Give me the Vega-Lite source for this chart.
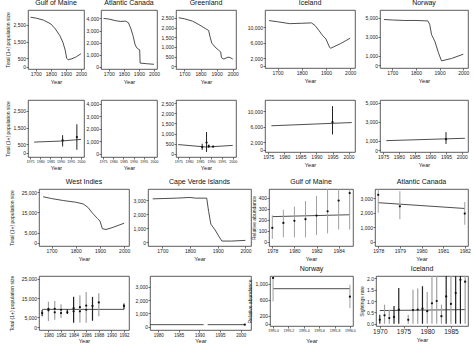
{
"$schema":"https://vega.github.io/schema/vega-lite/v6.json",
"padding":{"left":5,"top":-2,"right":0,"bottom":0},
"background":"white",
"config":{
 "font":"Liberation Sans",
 "view":{"stroke":"#333","strokeWidth":0.8},
 "axis":{"grid":false,"domain":false,"tickSize":2,"tickColor":"#333","tickWidth":0.7,"labelFontSize":5,"labelColor":"#222","labelPadding":0.5,"titleFontSize":5.7,"titleFontWeight":"normal","titleColor":"#222","titlePadding":1.5,"labelFlush":false,"labelOverlap":false},
 "axisY":{"titlePadding":2,"titleFontSize":5},
 "title":{"fontSize":7,"fontWeight":"normal","offset":0,"color":"#111","font":"Liberation Sans"}
},
"datasets":{
 "hist":[
  {"p":"GoM1","x":1665,"y":2950},{"p":"GoM1","x":1700,"y":2900},{"p":"GoM1","x":1750,"y":2780},{"p":"GoM1","x":1800,"y":2550},{"p":"GoM1","x":1830,"y":2250},{"p":"GoM1","x":1860,"y":1850},{"p":"GoM1","x":1880,"y":1450},{"p":"GoM1","x":1895,"y":1000},{"p":"GoM1","x":1905,"y":500},{"p":"GoM1","x":1915,"y":420},{"p":"GoM1","x":1940,"y":480},{"p":"GoM1","x":1970,"y":600},{"p":"GoM1","x":2000,"y":780},
  {"p":"AC1","x":1665,"y":4000},{"p":"AC1","x":1700,"y":3950},{"p":"AC1","x":1750,"y":3800},{"p":"AC1","x":1780,"y":3750},{"p":"AC1","x":1810,"y":3780},{"p":"AC1","x":1830,"y":3650},{"p":"AC1","x":1845,"y":3200},{"p":"AC1","x":1860,"y":2600},{"p":"AC1","x":1875,"y":1800},{"p":"AC1","x":1890,"y":1500},{"p":"AC1","x":1905,"y":1400},{"p":"AC1","x":1908,"y":300},{"p":"AC1","x":1950,"y":250},{"p":"AC1","x":2000,"y":200},
  {"p":"GR1","x":1665,"y":2500},{"p":"GR1","x":1700,"y":2450},{"p":"GR1","x":1750,"y":2330},{"p":"GR1","x":1790,"y":2150},{"p":"GR1","x":1830,"y":1950},{"p":"GR1","x":1850,"y":1850},{"p":"GR1","x":1860,"y":1500},{"p":"GR1","x":1870,"y":1200},{"p":"GR1","x":1890,"y":1000},{"p":"GR1","x":1910,"y":850},{"p":"GR1","x":1925,"y":750},{"p":"GR1","x":1930,"y":450},{"p":"GR1","x":1945,"y":380},{"p":"GR1","x":1970,"y":480},{"p":"GR1","x":1985,"y":450},{"p":"GR1","x":2000,"y":380},
  {"p":"IC1","x":1665,"y":11800},{"p":"IC1","x":1700,"y":11500},{"p":"IC1","x":1750,"y":11000},{"p":"IC1","x":1800,"y":11100},{"p":"IC1","x":1840,"y":11200},{"p":"IC1","x":1855,"y":10500},{"p":"IC1","x":1870,"y":9300},{"p":"IC1","x":1885,"y":8000},{"p":"IC1","x":1900,"y":7000},{"p":"IC1","x":1915,"y":4800},{"p":"IC1","x":1920,"y":4600},{"p":"IC1","x":1960,"y":5800},{"p":"IC1","x":2000,"y":7200},
  {"p":"NO1","x":1665,"y":4800},{"p":"NO1","x":1700,"y":4750},{"p":"NO1","x":1750,"y":4700},{"p":"NO1","x":1800,"y":4700},{"p":"NO1","x":1850,"y":4650},{"p":"NO1","x":1858,"y":4300},{"p":"NO1","x":1866,"y":3200},{"p":"NO1","x":1880,"y":2500},{"p":"NO1","x":1895,"y":1300},{"p":"NO1","x":1908,"y":450},{"p":"NO1","x":1950,"y":700},{"p":"NO1","x":2000,"y":1150},
  {"p":"WI3","x":1665,"y":22700},{"p":"WI3","x":1700,"y":21800},{"p":"WI3","x":1750,"y":20800},{"p":"WI3","x":1800,"y":20000},{"p":"WI3","x":1830,"y":19200},{"p":"WI3","x":1850,"y":17500},{"p":"WI3","x":1870,"y":14500},{"p":"WI3","x":1890,"y":12000},{"p":"WI3","x":1900,"y":10800},{"p":"WI3","x":1910,"y":7000},{"p":"WI3","x":1925,"y":6600},{"p":"WI3","x":1950,"y":7500},{"p":"WI3","x":1975,"y":8600},{"p":"WI3","x":2000,"y":9700},
  {"p":"CV3","x":1665,"y":3100},{"p":"CV3","x":1750,"y":3150},{"p":"CV3","x":1800,"y":3200},{"p":"CV3","x":1820,"y":3150},{"p":"CV3","x":1860,"y":3150},{"p":"CV3","x":1867,"y":2200},{"p":"CV3","x":1875,"y":1300},{"p":"CV3","x":1890,"y":900},{"p":"CV3","x":1905,"y":400},{"p":"CV3","x":1915,"y":100},{"p":"CV3","x":1950,"y":100},{"p":"CV3","x":2000,"y":150}
 ],
 "line":[
  {"p":"GoM2","s":1,"x":1977,"y":640},{"p":"GoM2","s":1,"x":1990,"y":700},{"p":"GoM2","s":1,"x":2000,"y":800},
  {"p":"GR2","s":1,"x":1975,"y":460},{"p":"GR2","s":1,"x":1988,"y":340},{"p":"GR2","s":1,"x":2000,"y":420},
  {"p":"IC2","s":1,"x":1976,"y":6260},{"p":"IC2","s":1,"x":2001,"y":7100},
  {"p":"NO2","s":1,"x":1976,"y":1000},{"p":"NO2","s":1,"x":2001,"y":1250},
  {"p":"GoMr","s":1,"x":1978,"y":228},{"p":"GoMr","s":1,"x":1985,"y":245},
  {"p":"ACr","s":1,"x":1978,"y":2700},{"p":"ACr","s":1,"x":1982,"y":2300},
  {"p":"WI4","s":1,"x":1979,"y":9200},{"p":"WI4","s":1,"x":1992,"y":9200},
  {"p":"CV4","s":1,"x":1978,"y":150},{"p":"CV4","s":1,"x":1991,"y":150},{"p":"CV4","s":2,"x":1992,"y":150},{"p":"CV4","s":2,"x":2001,"y":150},
  {"p":"NOr","s":1,"x":1995,"y":880},{"p":"NOr","s":1,"x":1996,"y":880},
  {"p":"ICr","s":1,"x":1970,"y":0.58},{"p":"ICr","s":1,"x":1988,"y":0.62}
 ],
 "pts":[
  {"p":"GoM2","x":1991,"y":740},{"p":"GoM2","x":1998,"y":940},
  {"p":"GR2","x":1986,"y":340},{"p":"GR2","x":1988,"y":560},{"p":"GR2","x":1989,"y":380},{"p":"GR2","x":1991,"y":360},
  {"p":"IC2","x":1995,"y":7200},
  {"p":"NO2","x":1995,"y":1150},
  {"p":"GoMr","x":1978,"y":125},{"p":"GoMr","x":1979,"y":170},{"p":"GoMr","x":1980,"y":190},{"p":"GoMr","x":1981,"y":205},{"p":"GoMr","x":1982,"y":238},{"p":"GoMr","x":1983,"y":277},{"p":"GoMr","x":1984,"y":375},{"p":"GoMr","x":1985,"y":443},
  {"p":"ACr","x":1978,"y":3250},{"p":"ACr","x":1979,"y":2450},{"p":"ACr","x":1982,"y":1950},
  {"p":"WI4","x":1979,"y":7300},{"p":"WI4","x":1980,"y":8700},{"p":"WI4","x":1981,"y":9500},{"p":"WI4","x":1982,"y":9000},{"p":"WI4","x":1983,"y":7700},{"p":"WI4","x":1984,"y":9800},{"p":"WI4","x":1985,"y":10300},{"p":"WI4","x":1986,"y":11200},{"p":"WI4","x":1987,"y":11000},{"p":"WI4","x":1988,"y":12800},{"p":"WI4","x":1992,"y":11000},
  {"p":"WI4","x":1980,"y":9500},{"p":"WI4","x":1981,"y":7700},{"p":"WI4","x":1982,"y":7300},{"p":"WI4","x":1984,"y":8200},{"p":"WI4","x":1985,"y":8200},{"p":"WI4","x":1986,"y":9000},
  {"p":"CV4","x":2001,"y":150},
  {"p":"NOr","x":1995,"y":1150},{"p":"NOr","x":1996,"y":680},
  {"p":"ICr","x":1970,"y":0.17},{"p":"ICr","x":1971,"y":0.37},{"p":"ICr","x":1972,"y":0.25},{"p":"ICr","x":1973,"y":0.3},{"p":"ICr","x":1974,"y":0.62},{"p":"ICr","x":1976,"y":0.17},{"p":"ICr","x":1977,"y":0.6},{"p":"ICr","x":1978,"y":0.62},{"p":"ICr","x":1979,"y":0.66},{"p":"ICr","x":1980,"y":0.55},{"p":"ICr","x":1981,"y":0.9},{"p":"ICr","x":1982,"y":1.0},{"p":"ICr","x":1983,"y":0.33},{"p":"ICr","x":1984,"y":1.2},{"p":"ICr","x":1985,"y":0.87},{"p":"ICr","x":1986,"y":1.35},{"p":"ICr","x":1987,"y":1.93},{"p":"ICr","x":1988,"y":1.85}
 ],
 "bars":[
  {"p":"GoM2","x":1991,"y":380,"y2":1050,"t":"a"},{"p":"GoM2","x":1998,"y":180,"y2":1700,"t":"a"},
  {"p":"GR2","x":1986,"y":200,"y2":500,"t":"a"},{"p":"GR2","x":1988,"y":100,"y2":1080,"t":"a"},{"p":"GR2","x":1989,"y":300,"y2":460,"t":"a"},{"p":"GR2","x":1991,"y":320,"y2":400,"t":"a"},
  {"p":"IC2","x":1995,"y":4000,"y2":11400,"t":"a"},
  {"p":"NO2","x":1995,"y":650,"y2":1900,"t":"a"},
  {"p":"GoMr","x":1978,"y":25,"y2":240,"t":"b"},{"p":"GoMr","x":1979,"y":40,"y2":290,"t":"b"},{"p":"GoMr","x":1980,"y":40,"y2":320,"t":"b"},{"p":"GoMr","x":1981,"y":40,"y2":370,"t":"b"},{"p":"GoMr","x":1982,"y":60,"y2":415,"t":"b"},{"p":"GoMr","x":1983,"y":75,"y2":490,"t":"b"},{"p":"GoMr","x":1984,"y":110,"y2":490,"t":"b"},{"p":"GoMr","x":1985,"y":110,"y2":490,"t":"b"},
  {"p":"ACr","x":1978,"y":2000,"y2":3650,"t":"b"},{"p":"ACr","x":1979,"y":1550,"y2":3500,"t":"b"},{"p":"ACr","x":1982,"y":1170,"y2":2750,"t":"b"},
  {"p":"WI4","x":1979,"y":5600,"y2":8900,"t":"a"},{"p":"WI4","x":1980,"y":3200,"y2":13200,"t":"b"},{"p":"WI4","x":1981,"y":3800,"y2":13500,"t":"b"},{"p":"WI4","x":1982,"y":4700,"y2":11800,"t":"b"},{"p":"WI4","x":1983,"y":6800,"y2":9200,"t":"a"},{"p":"WI4","x":1984,"y":2300,"y2":15700,"t":"a"},{"p":"WI4","x":1985,"y":2300,"y2":16500,"t":"b"},{"p":"WI4","x":1986,"y":2300,"y2":18200,"t":"b"},{"p":"WI4","x":1987,"y":3300,"y2":15700,"t":"a"},{"p":"WI4","x":1988,"y":5600,"y2":17500,"t":"b"},{"p":"WI4","x":1992,"y":9200,"y2":12200,"t":"a"},
  {"p":"NOr","x":1995,"y":560,"y2":1200,"t":"b"},{"p":"NOr","x":1996,"y":390,"y2":980,"t":"b"},
  {"p":"ICr","x":1970,"y":0,"y2":0.4,"t":"a"},{"p":"ICr","x":1971,"y":0,"y2":0.84,"t":"b"},{"p":"ICr","x":1972,"y":0,"y2":0.6,"t":"b"},{"p":"ICr","x":1973,"y":0,"y2":0.78,"t":"a"},{"p":"ICr","x":1974,"y":0,"y2":1.57,"t":"a"},{"p":"ICr","x":1976,"y":0,"y2":0.4,"t":"b"},{"p":"ICr","x":1977,"y":0,"y2":1.5,"t":"b"},{"p":"ICr","x":1978,"y":0,"y2":1.55,"t":"b"},{"p":"ICr","x":1979,"y":0,"y2":1.65,"t":"a"},{"p":"ICr","x":1980,"y":0,"y2":1.4,"t":"b"},{"p":"ICr","x":1981,"y":0,"y2":2.2,"t":"b"},{"p":"ICr","x":1982,"y":0,"y2":2.2,"t":"b"},{"p":"ICr","x":1983,"y":0,"y2":0.84,"t":"b"},{"p":"ICr","x":1984,"y":0,"y2":2.2,"t":"a"},{"p":"ICr","x":1985,"y":0,"y2":2.2,"t":"b"},{"p":"ICr","x":1986,"y":0,"y2":2.2,"t":"a"},{"p":"ICr","x":1987,"y":0,"y2":2.2,"t":"a"},{"p":"ICr","x":1988,"y":0,"y2":2.2,"t":"b"}
 ]
},
"spacing":6,
"vconcat":[
 {"spacing":12,"vconcat":[
  {"spacing":0,"bounds":"flush","hconcat":[
   {"width":56,"height":59,"title":"Gulf of Maine","data":{"name":"hist"},"transform":[{"filter":"datum.p==='GoM1'"}],"mark":{"type":"line","color":"#3a3a3a","strokeWidth":0.9},"encoding":{"x":{"field":"x","type":"quantitative","scale":{"domain":[1648,2020],"nice":false},"axis":{"values":[1700,1800,1900,2000],"format":"d","title":"Year"}},"y":{"field":"y","type":"quantitative","scale":{"domain":[-130,3380],"nice":false},"axis":{"values":[0,500,1500,2500],"format":",d","title":"Total (1+) population size"}}}},
   {"width":17,"height":1,"view":{"stroke":null},"data":{"values":[{"a":0}]},"mark":{"type":"point","opacity":0},"encoding":{}},
   {"width":56,"height":59,"title":"Atlantic Canada","data":{"name":"hist"},"transform":[{"filter":"datum.p==='AC1'"}],"mark":{"type":"line","color":"#3a3a3a","strokeWidth":0.9},"encoding":{"x":{"field":"x","type":"quantitative","scale":{"domain":[1648,2020],"nice":false},"axis":{"values":[1700,1800,1900,2000],"format":"d","title":"Year"}},"y":{"field":"y","type":"quantitative","scale":{"domain":[-190,4700],"nice":false},"axis":{"values":[0,1000,2000,3000,4000],"format":",d","title":null}}}},
   {"width":19,"height":1,"view":{"stroke":null},"data":{"values":[{"a":0}]},"mark":{"type":"point","opacity":0},"encoding":{}},
   {"width":60,"height":59,"title":"Greenland","data":{"name":"hist"},"transform":[{"filter":"datum.p==='GR1'"}],"mark":{"type":"line","color":"#3a3a3a","strokeWidth":0.9},"encoding":{"x":{"field":"x","type":"quantitative","scale":{"domain":[1648,2020],"nice":false},"axis":{"values":[1700,1800,1900,2000],"format":"d","title":"Year"}},"y":{"field":"y","type":"quantitative","scale":{"domain":[-130,2900],"nice":false},"axis":{"values":[0,500,1000,1500,2000,2500],"format":",d","title":null}}}},
   {"width":29,"height":1,"view":{"stroke":null},"data":{"values":[{"a":0}]},"mark":{"type":"point","opacity":0},"encoding":{}},
   {"width":90,"height":58,"title":"Iceland","data":{"name":"hist"},"transform":[{"filter":"datum.p==='IC1'"}],"mark":{"type":"line","color":"#3a3a3a","strokeWidth":0.9},"encoding":{"x":{"field":"x","type":"quantitative","scale":{"domain":[1648,2020],"nice":false},"axis":{"values":[1700,1800,1900,2000],"format":"d","title":"Year"}},"y":{"field":"y","type":"quantitative","scale":{"domain":[-560,14560],"nice":false},"axis":{"values":[0,2000,6000,10000],"format":",d","title":null}}}},
   {"width":25,"height":1,"view":{"stroke":null},"data":{"values":[{"a":0}]},"mark":{"type":"point","opacity":0},"encoding":{}},
   {"width":88,"height":58,"title":"Norway","data":{"name":"hist"},"transform":[{"filter":"datum.p==='NO1'"}],"mark":{"type":"line","color":"#3a3a3a","strokeWidth":0.9},"encoding":{"x":{"field":"x","type":"quantitative","scale":{"domain":[1648,2020],"nice":false},"axis":{"values":[1700,1800,1900,2000],"format":"d","title":"Year"}},"y":{"field":"y","type":"quantitative","scale":{"domain":[-300,5800],"nice":false},"axis":{"values":[0,1000,3000,5000],"format":",d","title":null}}}}
  ]},
  {"spacing":0,"bounds":"flush","hconcat":[
   {"width":56,"height":57,
    "encoding":{"x":{"field":"x","type":"quantitative","scale":{"domain":[1974,2001.5],"nice":false},"axis":{"values":[1975,1980,1985,1990,1995,2000],"format":"d","title":"Year","labelFontSize":3.6}},"y":{"field":"y","type":"quantitative","scale":{"domain":[-250,3150],"nice":false},"axis":{"values":[0,500,1500,2500],"format":",d","title":"Total (1+) population size"}}},
    "layer":[
     {"data":{"name":"line"},"transform":[{"filter":"datum.p==='GoM2'"}],"mark":{"type":"line","color":"#3a3a3a","strokeWidth":0.9}},
     {"data":{"name":"bars"},"transform":[{"filter":"datum.p==='GoM2'"}],"mark":{"type":"rule","strokeWidth":1,"clip":true},"encoding":{"y2":{"field":"y2"},"color":{"field":"t","type":"nominal","scale":{"domain":["a","b"],"range":["#222222","#a0a0a0"]},"legend":null}}},
     {"data":{"name":"pts"},"transform":[{"filter":"datum.p==='GoM2'"}],"mark":{"type":"point","filled":true,"color":"#111","size":5,"opacity":1}}
   ]},
   {"width":17,"height":1,"view":{"stroke":null},"data":{"values":[{"a":0}]},"mark":{"type":"point","opacity":0},"encoding":{}},
   {"width":56,"height":57,"data":{"name":"line"},"transform":[{"filter":"datum.p==='AC2'"}],"mark":{"type":"line","color":"#3a3a3a"},"encoding":{"x":{"field":"x","type":"quantitative","scale":{"domain":[1974,2001.5],"nice":false},"axis":{"values":[1975,1980,1985,1990,1995,2000],"format":"d","title":"Year","labelFontSize":3.6}},"y":{"field":"y","type":"quantitative","scale":{"domain":[-250,4300],"nice":false},"axis":{"values":[0,1000,2000,3000,4000],"format":",d","title":null}}}},
   {"width":19,"height":1,"view":{"stroke":null},"data":{"values":[{"a":0}]},"mark":{"type":"point","opacity":0},"encoding":{}},
   {"width":60,"height":57,
    "encoding":{"x":{"field":"x","type":"quantitative","scale":{"domain":[1974,2001.5],"nice":false},"axis":{"values":[1975,1980,1985,1990,1995,2000],"format":"d","title":"Year","labelFontSize":3.6}},"y":{"field":"y","type":"quantitative","scale":{"domain":[-150,2650],"nice":false},"axis":{"values":[0,500,1000,1500,2000,2500],"format":",d","title":null}}},
    "layer":[
     {"data":{"name":"line"},"transform":[{"filter":"datum.p==='GR2'"}],"mark":{"type":"line","color":"#3a3a3a","strokeWidth":0.9}},
     {"data":{"name":"bars"},"transform":[{"filter":"datum.p==='GR2'"}],"mark":{"type":"rule","strokeWidth":1,"clip":true},"encoding":{"y2":{"field":"y2"},"color":{"field":"t","type":"nominal","scale":{"domain":["a","b"],"range":["#222222","#a0a0a0"]},"legend":null}}},
     {"data":{"name":"pts"},"transform":[{"filter":"datum.p==='GR2'"}],"mark":{"type":"point","filled":true,"color":"#111","size":5,"opacity":1}}
   ]},
   {"width":29,"height":1,"view":{"stroke":null},"data":{"values":[{"a":0}]},"mark":{"type":"point","opacity":0},"encoding":{}},
   {"width":90,"height":52,
    "encoding":{"x":{"field":"x","type":"quantitative","scale":{"domain":[1974,2002],"nice":false},"axis":{"values":[1975,1980,1985,1990,1995,2000],"format":"d","title":"Year"}},"y":{"field":"y","type":"quantitative","scale":{"domain":[-600,13000],"nice":false},"axis":{"values":[0,2000,6000,10000],"format":",d","title":null}}},
    "layer":[
     {"data":{"name":"line"},"transform":[{"filter":"datum.p==='IC2'"}],"mark":{"type":"line","color":"#3a3a3a","strokeWidth":0.9}},
     {"data":{"name":"bars"},"transform":[{"filter":"datum.p==='IC2'"}],"mark":{"type":"rule","strokeWidth":1,"clip":true},"encoding":{"y2":{"field":"y2"},"color":{"field":"t","type":"nominal","scale":{"domain":["a","b"],"range":["#222222","#a0a0a0"]},"legend":null}}},
     {"data":{"name":"pts"},"transform":[{"filter":"datum.p==='IC2'"}],"mark":{"type":"point","filled":true,"color":"#111","size":5,"opacity":1}}
   ]},
   {"width":25,"height":1,"view":{"stroke":null},"data":{"values":[{"a":0}]},"mark":{"type":"point","opacity":0},"encoding":{}},
   {"width":88,"height":52,
    "encoding":{"x":{"field":"x","type":"quantitative","scale":{"domain":[1974,2002],"nice":false},"axis":{"values":[1975,1980,1985,1990,1995,2000],"format":"d","title":"Year"}},"y":{"field":"y","type":"quantitative","scale":{"domain":[-200,5300],"nice":false},"axis":{"values":[0,1000,3000,5000],"format":",d","title":null}}},
    "layer":[
     {"data":{"name":"line"},"transform":[{"filter":"datum.p==='NO2'"}],"mark":{"type":"line","color":"#3a3a3a","strokeWidth":0.9}},
     {"data":{"name":"bars"},"transform":[{"filter":"datum.p==='NO2'"}],"mark":{"type":"rule","strokeWidth":1,"clip":true},"encoding":{"y2":{"field":"y2"},"color":{"field":"t","type":"nominal","scale":{"domain":["a","b"],"range":["#222222","#a0a0a0"]},"legend":null}}},
     {"data":{"name":"pts"},"transform":[{"filter":"datum.p==='NO2'"}],"mark":{"type":"point","filled":true,"color":"#111","size":5,"opacity":1}}
   ]}
  ]}
 ]},
 {"spacing":2,"vconcat":[
  {"spacing":0,"bounds":"flush","hconcat":[
   {"width":11,"height":1,"view":{"stroke":null},"data":{"values":[{"a":0}]},"mark":{"type":"point","opacity":0},"encoding":{}},
   {"width":90,"height":57,"title":"West Indies","data":{"name":"hist"},"transform":[{"filter":"datum.p==='WI3'"}],"mark":{"type":"line","color":"#3a3a3a","strokeWidth":0.9},"encoding":{"x":{"field":"x","type":"quantitative","scale":{"domain":[1648,2020],"nice":false},"axis":{"values":[1700,1800,1900,2000],"format":"d","title":"Year"}},"y":{"field":"y","type":"quantitative","scale":{"domain":[-1500,26500],"nice":false},"axis":{"values":[0,5000,15000,25000],"format":",d","title":"Total (1+) population size","titlePadding":7}}}},
   {"width":19,"height":1,"view":{"stroke":null},"data":{"values":[{"a":0}]},"mark":{"type":"point","opacity":0},"encoding":{}},
   {"width":103,"height":57,"title":"Cape Verde Islands","data":{"name":"hist"},"transform":[{"filter":"datum.p==='CV3'"}],"mark":{"type":"line","color":"#3a3a3a","strokeWidth":0.9},"encoding":{"x":{"field":"x","type":"quantitative","scale":{"domain":[1648,2020],"nice":false},"axis":{"values":[1700,1800,1900,2000],"format":"d","title":"Year"}},"y":{"field":"y","type":"quantitative","scale":{"domain":[-250,3800],"nice":false},"axis":{"values":[0,1000,2000,3000],"format":",d","title":null}}}},
   {"width":18,"height":1,"view":{"stroke":null},"data":{"values":[{"a":0}]},"mark":{"type":"point","opacity":0},"encoding":{}},
   {"width":84,"height":57,"title":"Gulf of Maine",
    "encoding":{"x":{"field":"x","type":"quantitative","scale":{"domain":[1977.7,1985.3],"nice":false},"axis":{"values":[1978,1980,1982,1984],"format":"d","title":"Year"}},"y":{"field":"y","type":"quantitative","scale":{"domain":[-40,480],"nice":false},"axis":{"values":[0,100,200,300,400],"format":",d","title":"Relative abundance"}}},
    "layer":[
     {"data":{"name":"line"},"transform":[{"filter":"datum.p==='GoMr'"}],"mark":{"type":"line","color":"#3a3a3a","strokeWidth":0.9}},
     {"data":{"name":"bars"},"transform":[{"filter":"datum.p==='GoMr'"}],"mark":{"type":"rule","strokeWidth":1,"clip":true},"encoding":{"y2":{"field":"y2"},"color":{"field":"t","type":"nominal","scale":{"domain":["a","b"],"range":["#222222","#a0a0a0"]},"legend":null}}},
     {"data":{"name":"pts"},"transform":[{"filter":"datum.p==='GoMr'"}],"mark":{"type":"point","filled":true,"color":"#111","size":5,"opacity":1}}
   ]},
   {"width":22,"height":1,"view":{"stroke":null},"data":{"values":[{"a":0}]},"mark":{"type":"point","opacity":0},"encoding":{}},
   {"width":93,"height":57,"title":"Atlantic Canada",
    "encoding":{"x":{"field":"x","type":"quantitative","scale":{"domain":[1977.85,1982.15],"nice":false},"axis":{"values":[1978,1979,1980,1981,1982],"format":"d","title":"Year"}},"y":{"field":"y","type":"quantitative","scale":{"domain":[-300,3650],"nice":false},"axis":{"values":[0,1000,2000,3000],"format":",d","title":null}}},
    "layer":[
     {"data":{"name":"line"},"transform":[{"filter":"datum.p==='ACr'"}],"mark":{"type":"line","color":"#3a3a3a","strokeWidth":0.9}},
     {"data":{"name":"bars"},"transform":[{"filter":"datum.p==='ACr'"}],"mark":{"type":"rule","strokeWidth":1,"clip":true},"encoding":{"y2":{"field":"y2"},"color":{"field":"t","type":"nominal","scale":{"domain":["a","b"],"range":["#222222","#a0a0a0"]},"legend":null}}},
     {"data":{"name":"pts"},"transform":[{"filter":"datum.p==='ACr'"}],"mark":{"type":"point","filled":true,"color":"#111","size":5,"opacity":1}}
   ]}
  ]},
  {"spacing":0,"bounds":"flush","hconcat":[
   {"width":11,"height":1,"view":{"stroke":null},"data":{"values":[{"a":0}]},"mark":{"type":"point","opacity":0},"encoding":{}},
   {"width":90,"height":54,
    "encoding":{"x":{"field":"x","type":"quantitative","scale":{"domain":[1978.5,1992.8],"nice":false},"axis":{"values":[1980,1982,1984,1986,1988,1990,1992],"format":"d","title":"Year","labelFontSize":4.5,"titlePadding":0.5}},"y":{"field":"y","type":"quantitative","scale":{"domain":[-1500,26500],"nice":false},"axis":{"values":[0,5000,15000,25000],"format":",d","title":"Total (1+) population size","titlePadding":7}}},
    "layer":[
     {"data":{"name":"line"},"transform":[{"filter":"datum.p==='WI4'"}],"mark":{"type":"line","color":"#3a3a3a","strokeWidth":0.9}},
     {"data":{"name":"bars"},"transform":[{"filter":"datum.p==='WI4'"}],"mark":{"type":"rule","strokeWidth":1.2,"clip":true},"encoding":{"y2":{"field":"y2"},"color":{"field":"t","type":"nominal","scale":{"domain":["a","b"],"range":["#222222","#a0a0a0"]},"legend":null}}},
     {"data":{"name":"pts"},"transform":[{"filter":"datum.p==='WI4'"}],"mark":{"type":"point","filled":true,"color":"#111","size":5,"opacity":1}}
   ]},
   {"width":21,"height":1,"view":{"stroke":null},"data":{"values":[{"a":0}]},"mark":{"type":"point","opacity":0},"encoding":{}},
   {"width":101,"height":54,
    "encoding":{"x":{"field":"x","type":"quantitative","scale":{"domain":[1978,2002.5],"nice":false},"axis":{"values":[1980,1985,1990,1995,2000],"format":"d","title":"Year","labelFontSize":4.5,"titlePadding":0.5}},"y":{"field":"y","type":"quantitative","scale":{"domain":[-250,3800],"nice":false},"axis":{"values":[0,1000,2000,3000],"format":",d","title":null}}},
    "layer":[
     {"data":{"name":"line"},"transform":[{"filter":"datum.p==='CV4'"}],"mark":{"type":"line","color":"#3a3a3a","strokeWidth":0.9},"encoding":{"detail":{"field":"s","type":"nominal"}}},
     {"data":{"name":"pts"},"transform":[{"filter":"datum.p==='CV4'"}],"mark":{"type":"point","filled":true,"color":"#111","size":5,"opacity":1}}
   ]},
   {"width":19,"height":1,"view":{"stroke":null},"data":{"values":[{"a":0}]},"mark":{"type":"point","opacity":0},"encoding":{}},
   {"width":83,"height":50,"title":"Norway",
    "encoding":{"x":{"field":"x","type":"quantitative","scale":{"domain":[1994.96,1996.04],"nice":false},"axis":{"values":[1995,1995.2,1995.4,1995.6,1995.8,1996],"format":".1f","title":"Year","labelFontSize":3.5,"titlePadding":5}},"y":{"field":"y","type":"quantitative","scale":{"domain":[-60,1200],"nice":false},"axis":{"values":[0,200,600,1000],"format":",d","title":"Relative abundance"}}},
    "layer":[
     {"data":{"name":"line"},"transform":[{"filter":"datum.p==='NOr'"}],"mark":{"type":"line","color":"#3a3a3a","strokeWidth":0.9}},
     {"data":{"name":"bars"},"transform":[{"filter":"datum.p==='NOr'"}],"mark":{"type":"rule","strokeWidth":1,"clip":true},"encoding":{"y2":{"field":"y2"},"color":{"field":"t","type":"nominal","scale":{"domain":["a","b"],"range":["#222222","#a0a0a0"]},"legend":null}}},
     {"data":{"name":"pts"},"transform":[{"filter":"datum.p==='NOr'"}],"mark":{"type":"point","filled":true,"color":"#111","size":5,"opacity":1}}
   ]},
   {"width":23,"height":1,"view":{"stroke":null},"data":{"values":[{"a":0}]},"mark":{"type":"point","opacity":0},"encoding":{}},
   {"width":92,"height":50,"title":"Iceland",
    "encoding":{"x":{"field":"x","type":"quantitative","scale":{"domain":[1969.2,1988.6],"nice":false},"axis":{"values":[1970,1975,1980,1985],"format":"d","title":"Year","labelFontSize":6.5}},"y":{"field":"y","type":"quantitative","scale":{"domain":[-0.1,2.1],"nice":false},"axis":{"values":[0,0.5,1,1.5,2],"format":".1f","title":"Sightings rate"}}},
    "layer":[
     {"data":{"name":"line"},"transform":[{"filter":"datum.p==='ICr'"}],"mark":{"type":"line","color":"#3a3a3a","strokeWidth":0.9}},
     {"data":{"name":"bars"},"transform":[{"filter":"datum.p==='ICr'"}],"mark":{"type":"rule","strokeWidth":1.2,"clip":true},"encoding":{"y2":{"field":"y2"},"color":{"field":"t","type":"nominal","scale":{"domain":["a","b"],"range":["#222222","#a0a0a0"]},"legend":null}}},
     {"data":{"name":"pts"},"transform":[{"filter":"datum.p==='ICr'"}],"mark":{"type":"point","filled":true,"color":"#111","size":5,"opacity":1}}
   ]}
  ]}
 ]}
]
}
